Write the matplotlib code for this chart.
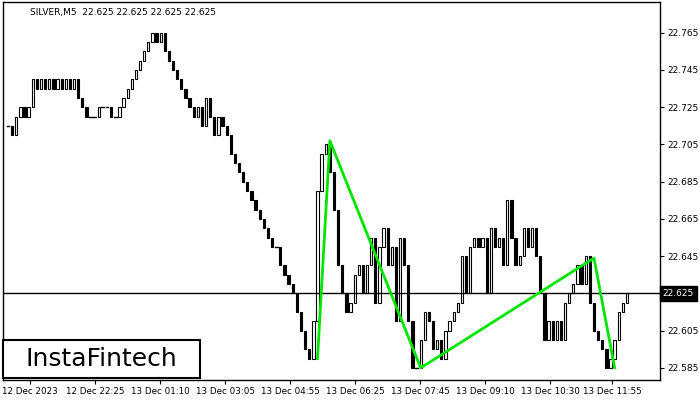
import matplotlib
matplotlib.use("Agg")
import matplotlib.pyplot as plt
from matplotlib.patches import Rectangle

closes = [22.715,22.710,22.720,22.725,22.720,22.725,22.740,22.735,22.740,22.735,22.740,22.735,22.740,22.735,22.740,22.735,22.740,22.730,22.725,22.720,22.720,22.720,22.725,
          22.725,22.725,22.720,22.720,22.725,22.730,22.735,22.740,22.745,22.750,22.755,22.760,22.765,22.760,22.765,
          22.755,22.750,22.745,22.740,22.735,22.730,22.725,22.720,22.725,22.715,22.730,22.720,22.710,22.720,22.715,22.710,22.700,22.695,22.690,22.685,22.680,22.675,22.670,22.665,22.660,22.655,22.650,22.650,22.640,22.635,
          22.630,22.625,22.615,22.605,22.595,22.590,22.610,22.680,22.700,22.705,
          22.690,22.670,22.640,22.625,22.615,22.620,22.635,22.640,22.625,22.640,22.655,22.620,22.650,22.660,22.640,22.650,22.610,22.655,22.640,22.610,22.585,22.585,
          22.600,22.615,22.610,22.595,22.600,22.590,22.605,22.610,22.615,22.620,22.645,22.625,22.650,22.655,22.650,22.655,22.625,22.660,22.650,22.655,22.640,22.675,22.655,22.640,
          22.645,22.660,22.650,22.660,22.645,22.625,22.600,22.610,22.600,22.610,22.600,22.620,22.625,22.630,22.640,22.630,22.645,22.620,22.605,22.600,22.595,22.585,22.590,22.600,22.615,22.620,22.625]
zig_idx = [75, 78, 100, 142, 147]
zig_price = [22.590, 22.707, 22.585, 22.644, 22.585]
yticks = [22.765, 22.745, 22.725, 22.705, 22.685, 22.665, 22.645, 22.605, 22.585]
current = 22.625
xlabels = ["12 Dec 2023","12 Dec 22:25","13 Dec 01:10","13 Dec 03:05","13 Dec 04:55",
           "13 Dec 06:25","13 Dec 07:45","13 Dec 09:10","13 Dec 10:30","13 Dec 11:55"]

n = len(closes)
step = (627 - 8) / (n - 1)  # px per bar
fig = plt.figure(figsize=(7, 4), dpi=100)
ax = fig.add_axes([3/700, 20/400, 657/700, 378/400])
x0 = -5/step; x1 = (660-8)/step
ax.set_xlim(x0, x1)
ax.set_ylim(22.5785, 22.7815)
w = 0.55
for i, c in enumerate(closes):
    o = closes[i-1] if i > 0 else c
    if abs(c - o) < 1e-9:
        ax.plot([i-0.35, i+0.35], [c, c], color='black', lw=1)
    elif c > o:
        ax.add_patch(Rectangle((i-w/2, o), w, c-o, facecolor='white', edgecolor='black', lw=0.8))
    else:
        ax.add_patch(Rectangle((i-w/2, c), w, o-c, facecolor='black', edgecolor='black', lw=0.8))
ax.plot(zig_idx, zig_price, color='#00e600', lw=2, zorder=5)
ax.axhline(current, color='black', lw=1)
ax.yaxis.tick_right()
ax.set_yticks(yticks)
ax.set_yticklabels([f"{v:.3f}" for v in yticks], fontsize=6.5)
ax.text(1.004, current, f"{current:.3f}", transform=ax.get_yaxis_transform(), fontsize=6.5,
        color='white', va='center', ha='left',
        bbox=dict(boxstyle='square,pad=0.3', fc='black', ec='black'))
xt_px = [30, 95, 160, 225, 290, 355, 420, 485, 550, 612]
ax.set_xticks([(p-8)/step for p in xt_px])
ax.set_xticklabels(xlabels, fontsize=6.3)
ax.tick_params(length=3, width=0.8, pad=2)
for s in ax.spines.values():
    s.set_linewidth(1)
fig.text(30/700, 1-12/400, "SILVER,M5  22.625 22.625 22.625 22.625",
         fontsize=6.5, va='center', ha='left')
fig.add_artist(Rectangle((3/700, 1-378/400), 197/700, 38/400, transform=fig.transFigure,
                         facecolor='white', edgecolor='black', lw=1.5, zorder=10))
fig.text(101/700, 1-359/400, "InstaFintech", fontsize=18, va='center', ha='center', zorder=11)
fig.savefig("out.png", dpi=100)
